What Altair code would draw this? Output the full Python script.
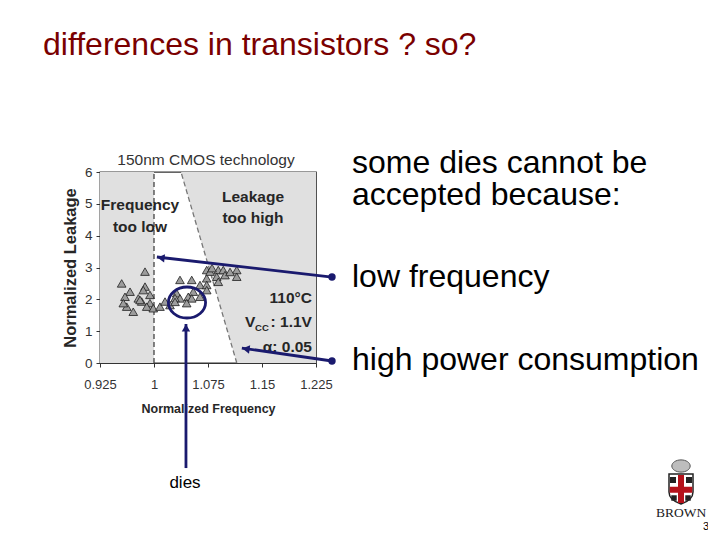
import altair as alt
import pandas as pd

# ---------------- data ----------------
freq = [0.9875, 0.9551, 0.9875, 0.9667, 0.9851, 0.9944, 0.9597, 0.9782, 0.9829, 0.9944,
        0.9621, 0.9899, 0.9990, 1.0083, 1.0153, 0.9712, 1.0222, 1.0732, 1.0893, 1.0962,
        1.1149, 1.0361, 1.0524, 1.0732, 1.0871, 1.0986, 1.1149, 1.0893, 1.0639, 1.0732,
        1.0732, 1.0546, 1.0639, 1.0315, 1.0361, 1.0476, 1.0524, 1.0454, 1.0778, 1.0292,
        0.9806, 0.9574, 1.0806, 1.1056, 1.0292]
leak = [2.87, 2.50, 2.40, 2.24, 2.29, 2.14, 2.08, 2.03, 1.93, 1.88,
        1.77, 1.77, 1.72, 1.77, 1.93, 1.61, 1.82, 2.92, 2.92, 2.92,
        2.92, 2.61, 2.61, 2.66, 2.71, 2.76, 2.71, 2.55, 2.45, 2.45,
        2.29, 2.24, 2.08, 2.19, 2.03, 2.08, 2.03, 1.88, 2.87, 2.04,
        1.98, 1.88, 2.98, 2.86, 1.92]

x_ticks = [0.925, 1.0, 1.075, 1.15, 1.225]
y_ticks = [0, 1, 2, 3, 4, 5, 6]
x_dom = [0.925, 1.225]
y_dom = [0, 6]

freq_min = 1.0                       # dashed "frequency too low" limit
leak_edge_freq = [1.115, 1.0375]     # dashed "leakage too high" limit ...
leak_edge_leak = [0.0, 6.0]          # ... at these leakage values

# annotation arrows (start dot -> head), in data units
arrow_x = [1.2472, 1.2472, 1.0444]
arrow_y = [2.70, 0.063, -3.30]
tip_x = [1.004, 1.122, 1.0444]
tip_y = [3.33, 0.47, 1.225]
head_x = [1.0097, 1.1278, 1.0444]
head_y = [3.30, 0.44, 1.10]
circle_x = [1.0458]
circle_y = [1.90]

SANS = "Liberation Sans, Arial, sans-serif"
NAVY = "#1a1a6e"
HATCH = "#e0e0e0"
INK = "#262626"

xs = alt.Scale(domain=x_dom, nice=False, zero=False)
ys = alt.Scale(domain=y_dom, nice=False, zero=False)

x_axis = alt.Axis(values=x_ticks, labelExpr="format(datum.value, '.4~g')",
                  title="Normalized Frequency",
                  titleX=108, titleY=45, titleBaseline="middle", titleAlign="center",
                  titleFont=SANS, titleFontSize=12.5, titleFontWeight="bold", titleColor=INK,
                  labelFont=SANS, labelFontSize=13, labelColor="#333", labelPadding=11,
                  tickSize=4, tickColor="#333", domainColor="#333", grid=False, labelFlush=False)
y_axis = alt.Axis(values=y_ticks, format="d", title="Normalized Leakage",
                  titleX=-30, titleY=95.5, titleAngle=270, titleBaseline="middle", titleAlign="center",
                  titleFont=SANS, titleFontSize=16.5, titleFontWeight="bold", titleColor=INK,
                  labelFont=SANS, labelFontSize=13.5, labelColor="#333", labelPadding=4,
                  tickSize=4, tickColor="#333", domainColor="#333", grid=False, labelFlush=False)


def X(f):
    return alt.X(f"{f}:Q", scale=xs, axis=x_axis)


def Y(f):
    return alt.Y(f"{f}:Q", scale=ys, axis=y_axis)


# ---------------- inner figure ----------------
low_zone = alt.Chart(pd.DataFrame({"x": [x_dom[0]], "x2": [freq_min],
                                   "y": [y_dom[0]], "y2": [y_dom[1]]})).mark_rect(
    fill=HATCH).encode(x=X("x"), x2="x2", y=Y("y"), y2="y2")

high_zone = alt.Chart(pd.DataFrame({"x": leak_edge_freq, "x2": [x_dom[1], x_dom[1]],
                                    "y": leak_edge_leak})).mark_area(
    orient="horizontal", fill=HATCH).encode(y=Y("y"), x=X("x"), x2="x2")

vline = alt.Chart(pd.DataFrame({"x": [freq_min], "y": [y_dom[0]], "y2": [y_dom[1]]})).mark_rule(
    color="#444", strokeDash=[5, 3], strokeWidth=1.3).encode(x=X("x"), y=Y("y"), y2="y2")

dline = alt.Chart(pd.DataFrame({"x": [leak_edge_freq[0]], "x2": [leak_edge_freq[1]],
                                "y": [leak_edge_leak[0]], "y2": [leak_edge_leak[1]]})).mark_rule(
    color="#777", strokeDash=[5, 3], strokeWidth=1.3).encode(x=X("x"), x2="x2", y=Y("y"), y2="y2")

dies = alt.Chart(pd.DataFrame({"x": freq, "y": leak})).mark_point(
    shape="triangle-up", filled=True, fill="#9c9c9c", stroke="#1e1e1e", strokeWidth=0.8,
    size=75, opacity=1).encode(x=X("x"), y=Y("y"))

center_txt = alt.Chart(pd.DataFrame({
    "t": ["Frequency", "too low", "Leakage", "too high"],
    "x": [0.9806, 0.9806, 1.1375, 1.1375],
    "y": [4.96, 4.27, 5.21, 4.56]})).mark_text(
    font=SANS, fontSize=15.5, fontWeight="bold", color=INK, align="center", baseline="middle"
).encode(x=X("x"), y=Y("y"), text="t:N")

right_txt = alt.Chart(pd.DataFrame({
    "t": ["110°C", ": 1.1V", "α: 0.05"],
    "x": [1.2194, 1.2194, 1.2194],
    "y": [2.04, 1.29, 0.50]})).mark_text(
    font=SANS, fontSize=15.5, fontWeight="bold", color=INK, align="right", baseline="middle"
).encode(x=X("x"), y=Y("y"), text="t:N")

v_txt = alt.Chart(pd.DataFrame({"t": ["V"], "x": [1.1264], "y": [1.29]})).mark_text(
    font=SANS, fontSize=15.5, fontWeight="bold", color=INK, align="left", baseline="middle"
).encode(x=X("x"), y=Y("y"), text="t:N")
cc_txt = alt.Chart(pd.DataFrame({"t": ["CC"], "x": [1.1403], "y": [1.09]})).mark_text(
    font=SANS, fontSize=9.5, fontWeight="bold", color=INK, align="left", baseline="middle"
).encode(x=X("x"), y=Y("y"), text="t:N")

# ---------------- annotation arrows ----------------
arr_df = pd.DataFrame({"x": arrow_x, "y": arrow_y, "x2": tip_x, "y2": tip_y})
arrow_lines = alt.Chart(arr_df).mark_rule(color=NAVY, strokeWidth=2.8).encode(
    x=X("x"), y=Y("y"), x2="x2", y2="y2")
arrow_dots = alt.Chart(arr_df.iloc[:2]).mark_point(
    shape="circle", filled=True, color=NAVY, size=55, opacity=1).encode(x=X("x"), y=Y("y"))

heads = []
for i, ang in enumerate([276.5, 278.2, 0]):
    heads.append(alt.Chart(pd.DataFrame({"x": [head_x[i]], "y": [head_y[i]]})).mark_point(
        shape="triangle-up", filled=True, color=NAVY, size=70, angle=ang, opacity=1
    ).encode(x=X("x"), y=Y("y")))

ellipse = alt.Chart(pd.DataFrame({"x": circle_x, "y": circle_y})).mark_point(
    shape="M -1.2 0 A 1.2 1 0 1 1 1.2 0 A 1.2 1 0 1 1 -1.2 0 Z", filled=False,
    stroke=NAVY, strokeWidth=2.8, size=961, opacity=1).encode(x=X("x"), y=Y("y"))


# ---------------- slide text (pixel offsets from plot origin) ----------------
def slide_text(txt, x, y, **kw):
    return alt.Chart(pd.DataFrame({"t": [txt]})).mark_text(**kw).encode(
        x=alt.value(x), y=alt.value(y), text="t:N")


slide = [
    slide_text("differences in transistors ? so?", -57, -117, font=SANS, fontSize=32,
               color="#7a0000", align="left", baseline="alphabetic"),
    slide_text("150nm CMOS technology", 106, -12, font=SANS, fontSize=15.5,
               color="#333", align="center", baseline="middle"),
    slide_text("some dies cannot be", 252, 1, font=SANS, fontSize=32, color="#000",
               align="left", baseline="alphabetic"),
    slide_text("accepted because:", 252, 33, font=SANS, fontSize=32, color="#000",
               align="left", baseline="alphabetic"),
    slide_text("low frequency", 252, 115, font=SANS, fontSize=32, color="#000",
               align="left", baseline="alphabetic"),
    slide_text("high power consumption", 252, 198, font=SANS, fontSize=32, color="#000",
               align="left", baseline="alphabetic"),
    slide_text("dies", 85, 316, font=SANS, fontSize=17, color="#000",
               align="center", baseline="alphabetic"),
    slide_text("3", 606, 358, font=SANS, fontSize=11, color="#000",
               align="center", baseline="alphabetic"),
    slide_text("BROWN", 581, 345, font="Liberation Serif, DejaVu Serif, serif", fontSize=13.5,
               color="#222", align="center", baseline="alphabetic"),
]


# Brown University shield (decoration)
def logo_symbol(shape, x, y, size, **kw):
    return alt.Chart(pd.DataFrame({"t": [0]})).mark_point(
        shape=shape, size=size, opacity=1, **kw).encode(x=alt.value(x), y=alt.value(y))


logo = [
    logo_symbol("M -1.5 0 A 1.5 1 0 1 1 1.5 0 A 1.5 1 0 1 1 -1.5 0 Z", 581, 294, 150,
                filled=True, fill="#bdbdbd", stroke="#555", strokeWidth=1),
    logo_symbol("M -0.8 -1 L 0.8 -1 L 0.8 0.2 C 0.8 0.7 0.3 0.9 0 1 C -0.3 0.9 -0.8 0.7 -0.8 0.2 Z",
                581, 317, 900, filled=True, fill="#ffffff", stroke="#222", strokeWidth=1.5),
    logo_symbol("M -0.2 -0.93 L 0.2 -0.93 L 0.2 -0.15 L 0.75 -0.15 L 0.75 0.25 L 0.2 0.25 "
                "L 0.2 0.93 L -0.2 0.93 L -0.2 0.25 L -0.75 0.25 L -0.75 -0.15 L -0.2 -0.15 Z",
                581, 317, 900, filled=True, fill="#b5121b", strokeWidth=0),
    logo_symbol("square", 573, 308, 36, filled=True, fill="#222", strokeWidth=0),
    logo_symbol("square", 589, 308, 36, filled=True, fill="#222", strokeWidth=0),
    logo_symbol("square", 574, 326, 30, filled=True, fill="#222", strokeWidth=0),
    logo_symbol("square", 588, 326, 30, filled=True, fill="#222", strokeWidth=0),
]

chart = alt.layer(
    low_zone, high_zone, vline, dline, dies, center_txt, right_txt, v_txt, cc_txt,
    arrow_lines, *heads, arrow_dots, ellipse, *slide, *logo
).properties(
    width=216, height=191,
    padding={"left": 92, "top": 164, "right": 392, "bottom": 168},
    autosize=alt.AutoSizeParams(type="none"),
    background="white",
).configure_view(stroke="#333", strokeWidth=1.3)

chart.save("out.html", embed_options={"renderer": "svg", "actions": False})
